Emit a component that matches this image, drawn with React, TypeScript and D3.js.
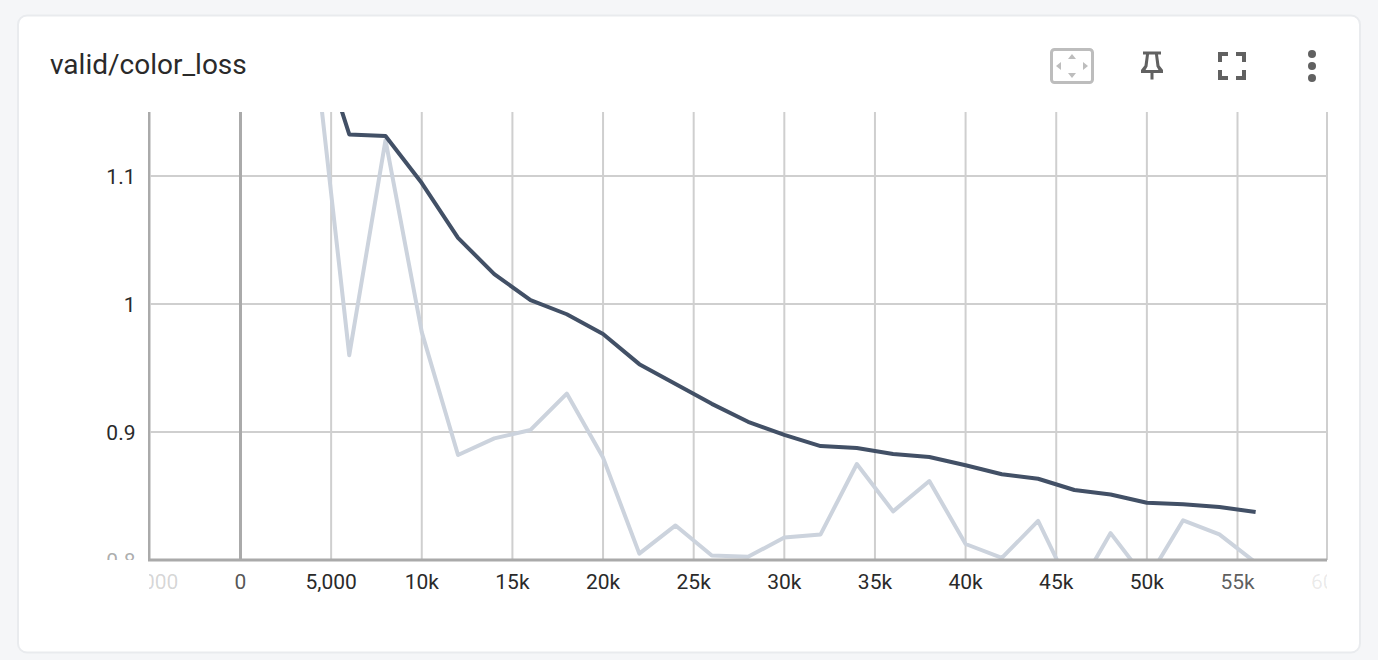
import React from "react";
import * as d3 from "d3";

const title = "valid/color_loss";
const steps = [4000,6000,8000,10000,12000,14000,16000,18000,20000,22000,24000,26000,28000,30000,32000,34000,36000,38000,40000,42000,44000,46000,48000,50000,52000,54000,56000];
const smoothed = [1.221,1.1325,1.1313,1.0945,1.0516,1.0234,1.003,0.992,0.9766,0.953,0.9375,0.922,0.908,0.8977,0.889,0.8875,0.8828,0.8805,0.874,0.867,0.8635,0.8547,0.8512,0.8447,0.8435,0.8414,0.8375];
const raw = [1.213,0.96,1.128,0.978,0.882,0.895,0.9016,0.93,0.88,0.805,0.827,0.8035,0.8025,0.8175,0.82,0.875,0.838,0.8617,0.8125,0.8016,0.8305,0.772,0.821,0.784,0.831,0.82,0.798];
const xTicks = [-5000,0,5000,10000,15000,20000,25000,30000,35000,40000,45000,50000,55000,60000];
const xLabels = ["-5,000","0","5,000","10k","15k","20k","25k","30k","35k","40k","45k","50k","55k","60k"];
const xLabelOpacity = [0.2,0.8,1,1,1,1,1,1,1,1,1,1,0.75,0.1];
const yTicks = [0.8,0.9,1,1.1];
const yLabels = ["0.8","0.9","1","1.1"];

const L = 149, R = 1327, T = 112, B = 560;
const FONT = "Roboto, sans-serif";

export default function App() {
  const x = d3.scaleLinear().domain([0, 55000]).range([240.5, 1237.5]);
  const y = d3.scaleLinear().domain([0.8, 1.1]).range([560, 176]);
  const line = d3.line<number>().x((_, i) => x(steps[i])).y((d) => y(d));
  return (
    <svg width={1378} height={660} style={{ position: "absolute", left: 0, top: 0, background: "#f5f6f8" }} fontFamily={FONT}>
      <defs>
        <clipPath id="plot"><rect x={L} y={T} width={R - L} height={B - T} /></clipPath>
        <clipPath id="xl"><rect x={L} y={B} width={R - L} height={50} /></clipPath>
        <clipPath id="yl"><rect x={60} y={T} width={L - 60} height={B - T} /></clipPath>
      </defs>
      <rect x={18} y={15.5} width={1342} height={637} rx={9} fill="#fff" stroke="#e9ebee" strokeWidth={2} />
      <text x={50} y={74} fontSize={28} fill="#2a2a2a">{title}</text>

      {/* toolbar */}
      <g>
        <rect x={1051.5} y={49.5} width={41} height={33} rx={3} fill="none" stroke="#bdbdbd" strokeWidth={3} />
        <path d="M1072 54l4 5h-8zM1072 78l-4-5h8zM1056 66l5-4v8zM1088 66l-5-4v8z" fill="#bdbdbd" />
        <path d="M1143 51.5h18v3h-3l1.5 11 3.5 4.500v3h-9.500v6.500h-3v-6.500H1141v-3l3.500-4.500 1.500-11h-3z M1149 54.500l-1.500 12-2 3.500h13l-2-3.500-1.500-12z" fill="#616161" fillRule="evenodd" />
        <path d="M1218 52h10v4h-6v6h-4zM1246 52h-10v4h6v6h4zM1218 80h10v-4h-6v-6h-4zM1246 80h-10v-4h6v-6h4z" fill="#616161" />
        <circle cx={1312} cy={54} r={4} fill="#616161" />
        <circle cx={1312} cy={66} r={4} fill="#616161" />
        <circle cx={1312} cy={78} r={4} fill="#616161" />
      </g>

      {/* grid */}
      {xTicks.filter((t) => t !== 0 && x(t) > L && x(t) < R).map((t) => (
        <line key={t} x1={x(t)} x2={x(t)} y1={T} y2={B} stroke="#cfcfcf" strokeWidth={2} />
      ))}
      {yTicks.filter((t) => y(t) < B).map((t) => (
        <line key={t} x1={L} x2={R} y1={y(t)} y2={y(t)} stroke="#cfcfcf" strokeWidth={2} />
      ))}
      <line x1={R} x2={R} y1={T} y2={B} stroke="#cfcfcf" strokeWidth={2} />
      <line x1={x(0)} x2={x(0)} y1={T} y2={B} stroke="#aaaaaa" strokeWidth={3} />
      <line x1={L} x2={L} y1={T} y2={B} stroke="#aaaaaa" strokeWidth={2} />

      {/* series */}
      <g clipPath="url(#plot)" fill="none" strokeWidth={4} strokeLinejoin="round">
        <path d={line(raw) ?? ""} stroke="#ccd3dd" />
        <path d={line(smoothed) ?? ""} stroke="#425066" />
      </g>
      <line x1={L - 1} x2={R} y1={B} y2={B} stroke="#aaaaaa" strokeWidth={3} />

      {/* tick labels */}
      <g clipPath="url(#xl)">
        {xTicks.map((t, i) => (
          <text key={t} x={x(t)} y={588.5} textAnchor="middle" fontSize={21} fill="#2a2a2a" fillOpacity={xLabelOpacity[i]}>{xLabels[i]}</text>
        ))}
      </g>
      <g clipPath="url(#yl)">
        {yTicks.map((t, i) => (
          <text key={t} x={135.5} y={y(t) + 8} textAnchor="end" fontSize={21} fill="#2a2a2a" fillOpacity={t === 0.8 ? 0.4 : 1}>{yLabels[i]}</text>
        ))}
      </g>
    </svg>
  );
}
